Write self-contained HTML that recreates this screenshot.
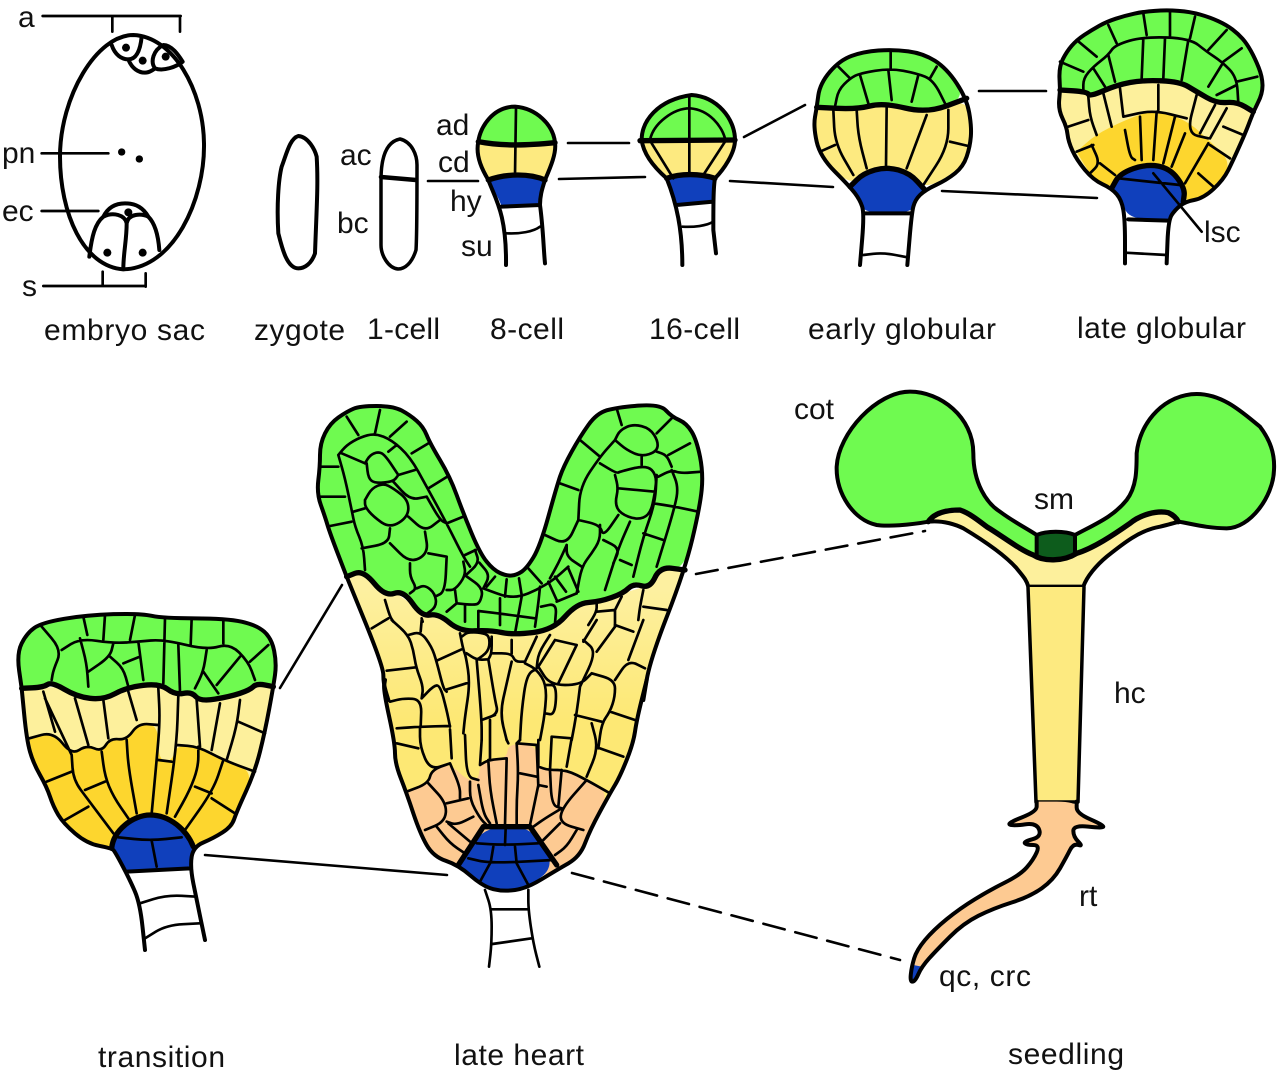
<!DOCTYPE html>
<html><head><meta charset="utf-8"><style>
html,body{margin:0;padding:0;background:#fff}
svg{display:block}
text{font-family:"Liberation Sans",sans-serif;font-size:30px;fill:#111}
path{stroke:#000;stroke-linejoin:round;stroke-linecap:round;fill:none}
path.f{stroke:none}
.t{stroke-width:8}.o{stroke-width:12}.b{stroke-width:16}
path.gr{fill:#6ffa50}path.pa{fill:#fdf09c}path.ye{fill:#fdea80}path.dk{fill:#fdd62e}path.pe{fill:#fdca92}path.bl{fill:#1040bc}
.c{stroke-width:2.6}
</style></head><body>
<svg width="1280" height="1072" viewBox="0 0 1280 1072" xmlns="http://www.w3.org/2000/svg">
<defs><linearGradient id="hy" gradientUnits="userSpaceOnUse" x1="0" y1="590" x2="0" y2="720"><stop offset="0" stop-color="#fdf0a0"/><stop offset="1" stop-color="#fde874"/></linearGradient></defs>

<!-- embryo sac + zygote -->
<g transform="scale(.33333)">
<path class="o" d="M400 105C520 110 610 270 612 430C615 600 520 805 370 808C250 800 180 640 180 470C180 290 290 105 400 105Z"/>
<path class="o" d="M335 135C345 165 365 178 385 178C405 178 420 160 425 110M385 178C395 205 415 218 435 218C450 218 465 205 465 205M465 205C450 185 460 150 490 135C515 135 535 165 548 185C530 200 490 215 465 205"/>
<path class="o" d="M268 770C275 710 285 670 310 650C340 635 375 645 380 670C385 640 425 640 445 650C465 670 475 710 478 750M380 670C380 720 370 760 370 805M310 650C325 620 350 610 375 610C410 610 430 625 445 650"/>
<g fill="#000"><circle cx="378" cy="143" r="12"/><circle cx="428" cy="182" r="12"/><circle cx="497" cy="170" r="12"/><circle cx="385" cy="637" r="12"/><circle cx="322" cy="758" r="12"/><circle cx="428" cy="758" r="12"/><circle cx="365" cy="456" r="11"/><circle cx="418" cy="477" r="11"/></g>
<path class="t" d="M128 48H542M337 48V95M540 48V95M125 460H325M125 633H295M130 858H437M308 815V858M437 820V860"/>
<path class="o" d="M835 700C830 620 835 540 845 500C860 460 870 415 895 408C925 410 945 450 950 470C955 550 950 620 945 760C935 790 915 805 895 805C860 805 845 740 835 700Z"/>
</g>

<!-- 1-cell -->
<path stroke-width="3.5" d="M381 180C381 160 385 142 400 139C412 142 417 155 417 165C417 200 417 235 416 250C412 263 405 269 398 269C388 268 381 255 381 245Z"/>
<path stroke-width="4.5" d="M381 177L416 180"/>
<path class="c" d="M428 181H478"/>

<!-- 8 and 16 cell -->
<g transform="translate(420 90) scale(.33333)">
<path class="f gr" d="M175 155C180 110 220 50 285 50C350 55 395 105 405 158L290 165Z"/>
<path class="f ye" d="M175 155C165 200 190 245 205 270C260 250 330 250 375 270C390 235 410 190 405 158L290 165Z"/>
<path class="f bl" d="M205 270C260 250 330 250 375 270C365 300 360 320 360 345L245 350C235 320 220 300 205 270Z"/>
<path class="o" d="M175 155C180 110 220 50 285 50C350 55 400 105 405 158C410 190 390 235 375 270C365 300 360 320 360 345C370 420 370 470 375 520M175 155C165 200 190 245 205 270C225 325 260 370 258 525M245 350L360 345"/>
<path class="b" d="M175 155C250 170 330 165 405 158M205 270C260 250 330 250 375 270"/>
<path class="t" d="M288 55L285 255M260 430C300 432 340 425 360 410"/>
<path class="f gr" d="M665 148C665 95 710 30 815 15C890 20 945 85 945 150Z"/>
<path class="f ye" d="M665 150C670 190 700 230 740 265C780 250 840 250 885 265C910 240 945 190 945 150Z"/>
<path class="f bl" d="M740 265C780 250 840 250 885 265C880 290 880 320 880 335L770 345C760 310 750 290 740 265Z"/>
<path class="o" d="M665 150C665 95 710 30 815 15C890 20 945 85 945 150C945 190 910 240 885 265C880 290 880 350 880 420L888 490M665 150C670 190 700 230 740 265C770 340 787 420 787 525M770 345L880 335"/>
<path class="b" d="M660 152L945 150M740 265C780 250 840 250 885 265"/>
<path class="t" d="M808 20V250M690 150C700 100 760 55 810 55C870 60 905 110 915 145M695 160L760 265M915 155L850 255M787 410C820 412 860 408 880 395"/>
</g>
<path class="c" d="M568 143H629M559 179L645 177M744 137L805 105M730 181L833 187M942 191L1097 198M979 91H1046"/>

<!-- early + late globular -->
<g transform="translate(800 10) scale(.33333)">
<path class="f gr" d="M50 292L60 220L120 150L190 125L280 118L370 130L440 175L500 265L380 310L250 278L170 298Z"/>
<path class="f ye" d="M50 292L40 350L60 440L150 525L190 490L260 470L330 490L375 540L490 470L510 410L515 350L500 265L380 310L250 278L170 298Z"/>
<path class="f bl" d="M150 530L190 490L260 470L330 490L375 540L345 570L335 610L193 610L180 570Z"/>
<path class="o" d="M50 292L60 220L120 150L190 125L280 118L370 130L440 175L500 265L515 350L510 410L490 470L440 510L375 540L345 570L335 610L322 765M50 292L40 350L60 440L150 530L180 570L193 610L180 765M193 610L335 610"/>
<path class="b" d="M50 292L170 298L250 278L380 310L500 265M150 530L190 490L260 470L330 490L375 540"/>
<path class="t" d="M115 170L150 205M410 170L390 205M272 125V175M105 290L115 240L150 205L180 190L270 175L350 190L400 210L440 290M180 195L205 280M265 180L275 270M355 195L335 275M100 300L105 400L160 495M170 300L175 380L200 475M260 290L258 470M380 315L320 475M445 300L445 410L370 525M60 425L105 405M450 395L505 408M190 735L250 728L322 742"/>

<path class="f gr" d="M780 240L777 170L800 125L830 90L875 60L920 35L975 17L1030 5L1100 0L1170 5L1230 22L1280 45L1315 72L1340 100L1365 145L1387 200L1388 250L1360 305L1310 275L1250 280L1190 245L1140 215L1030 210L950 225L870 260L860 245Z"/>
<path class="f pa" d="M780 240L775 300L800 350L805 395L830 450L935 535L1155 575L1210 565L1270 510L1300 450L1340 360L1360 305L1310 275L1250 280L1190 245L1140 215L1030 210L950 225L870 260L860 245Z"/>
<path class="f dk" d="M830 425L885 375L975 330L1060 300L1160 330L1225 390L1290 450L1270 510L1210 565L1155 575L1155 535L1110 475L1040 462L960 490L935 535L880 510Z"/>
<path class="f bl" d="M935 535L960 490L1040 462L1110 475L1155 535L1150 575L1110 625L1100 632L985 625L965 570L945 545Z"/>
<path class="o" d="M780 240L777 170L800 125L830 90L875 60L920 35L975 17L1030 5L1100 0L1170 5L1230 22L1280 45L1315 72L1340 100L1365 145L1387 200L1388 250L1360 305L1340 360L1300 450L1270 510L1210 565L1155 575L1125 600L1105 630L1100 760M780 240L775 300L800 350L805 395L830 450L880 510L935 535L965 570L975 630V760M985 628L1105 632"/>
<path class="b" d="M780 240L860 245L870 260L950 225L1030 210L1140 215L1190 245L1250 280L1310 275L1360 305M935 535L960 490L1040 462L1110 475L1155 535L1150 575"/>
<path class="t" d="M780 155L850 185M830 90L890 140M925 45L950 100M1030 10L1040 75M1110 5V80M1185 20L1170 85M1280 60L1225 120M1325 115L1270 155M1372 200L1310 215M850 245L850 205L880 170L925 135L945 105L1030 80L1170 85L1220 125L1265 155L1310 200L1315 280M925 135L945 215M1030 85L1025 205M1095 85L1090 205M1165 90L1145 210M1265 165L1225 230M880 175L915 230M1250 255L1310 225M865 260L870 320L890 375M805 350L865 330M830 425L880 405M910 250L935 350M960 235L970 320M1075 225V300M970 320L1060 300L1160 325M1190 255L1160 370L1225 385M1245 285L1200 370M1280 295L1230 385M1270 350L1330 375M1230 405L1290 445M875 405L900 460L870 490M900 460L945 495M975 360L990 440L1005 450M1020 320L1025 450M1070 305L1060 450M1125 320L1090 460M1155 370L1115 470M1225 400L1155 520M1195 490L1240 530M955 505L1140 525M1060 490L1205 665M975 728L1100 735"/>
</g>

<!-- transition -->
<g transform="translate(0 600) scale(.33333)">
<path class="f pa n" d="M65 262L80 420L100 490L140 560L160 620L190 670L260 730L335 745L580 740L640 710L700 680L710 635L765 515L795 395L820 260Z"/>
<path class="f dk" d="M88 415L160 395L215 465L260 435L305 455L330 415L380 420L415 370L475 375L475 480L515 485L530 435L595 440L670 480L765 515L710 635L700 680L640 710L580 740L335 745L260 730L190 670L160 620L140 560L100 490Z"/>
<path class="f gr" d="M65 265L50 160L80 100L125 68L260 45L420 40L490 55L680 55L770 75L815 115L830 190L820 260L770 250L750 270L690 290L600 305L575 275L525 285L480 250L380 262L310 300L230 290L155 245L130 262Z"/>
<path class="f bl" d="M335 745C340 690 400 645 450 645C510 645 560 690 580 740L570 800L380 815L345 755Z"/>
<path class="o" d="M65 265L50 160L80 100L125 68L260 45L420 40L490 55L680 55L770 75L815 115L830 190L820 260L795 395L765 515L710 635L695 680L640 715L580 740L570 800L590 900L615 1020M65 265L80 420L100 490L140 560L160 620L190 670L260 730L335 745L345 755L390 840L420 910L435 1050M380 815L570 805"/>
<path class="b" d="M65 265L130 262L155 245L230 290L310 300L380 262L480 250L525 285L575 275L600 305L690 290L750 270L770 250L820 260"/>
<path class="b" d="M335 745C340 690 400 645 450 645C510 645 560 690 580 740"/>
<path class="t" d="M125 80L185 150L160 210L155 240M185 150L240 115L340 130L415 125L490 118L620 150L690 130L745 185L765 240M250 50L262 105M315 45L310 120M405 45L390 120M495 55L490 250M575 55L572 135M670 60V130M805 135L750 185M240 115L260 190L265 260M340 130L330 170L265 215M330 170L370 205L385 260M370 190L420 170M415 125L430 240M535 135L540 275M620 150L610 215L585 265M610 215L655 280M720 170L650 255M130 275L165 395M135 295L215 465M225 295L265 435M310 300L325 415M385 275L410 360M475 265L480 360L470 480L455 640M535 285L530 435L500 640M590 300L600 440M660 310L635 450M720 300L710 380L680 480M715 365L795 400M88 415L160 395L215 465L260 435L305 455L330 415L380 420L415 370L475 375M475 480L515 485M530 435L595 440L670 480L765 515M140 545L215 515M215 465L220 540L265 600L340 700M195 660L265 620M255 570L315 545M305 455L315 530L340 590L385 655M380 420L385 500L410 640M595 440L595 500L570 570L525 650M585 560L635 580M670 480L640 570L555 690M635 595L705 640M355 712L450 722L545 712M455 722L470 800M420 910L500 885L590 890M435 1015L500 975L600 970"/>
</g>

<!-- heart body fill (yellow) -->
<path class="f n" style="fill:url(#hy)" d="M347 577L363 570L420 610L500 630L600 600L650 585L660 566L685 570L650 660L643 700L637 720L633 743L620 777L606 800L409 800L395 763L395 743L383 690L383 667Z"/>

<!-- heart lower -->
<g transform="translate(370 680) scale(.33333)">
<path class="f pe" d="M110 335L175 310L185 270L240 250L290 300L325 300L330 255L355 240L410 235L415 190L500 195L505 260L535 270L590 270L650 300L720 340L660 450L630 530L560 570L400 635L265 555L190 530L150 460Z"/>
<path class="f bl" d="M265 555L340 440L480 435L560 555L470 625L400 635L340 620Z"/>
<path class="o" d="M830 0L800 120L790 190L750 290L720 340L660 450L630 530L560 570L470 625L400 635L340 620L265 555L190 530L150 460L110 340L75 250L75 190L40 30L45 0"/>
<path class="b n" d="M265 555L340 440H480L560 555"/>
<path class="t" d="M110 335L175 310L185 270L240 250M150 140L150 200L180 270L240 250M80 190L145 205M240 148L245 235M285 165L290 290L325 300M335 180L330 255M360 120L360 235M410 180L415 190M505 180L505 260M450 180L440 190M605 175L590 260M545 170L605 175M545 170L540 270M665 130L685 205L650 290M690 205L760 230M330 255L355 240L410 235M500 195L440 190M505 260L535 270L590 270L650 300L720 340M175 310L230 370L225 425L165 450M230 370L295 355M240 250L270 320L270 355M230 425L260 435L310 410M300 305L300 360L330 415L350 435M325 315L340 400L360 430M355 240L360 330L380 430M410 235L405 435M440 190L445 280L440 360L440 435M450 280L500 290M505 315L530 320M505 315L480 435M500 195L505 320M540 270L545 375L575 385M575 270L565 380M650 300L575 385L570 430L640 450M575 385L525 415L490 440M570 430L520 480M620 450L590 500L555 525M200 440L240 490L285 520M235 430L300 485M407 445L405 495M320 490L400 495L505 490M295 535L360 550L550 540M370 500L362 548M435 500L440 550M360 550L330 605M440 550L475 615M345 630L365 690L365 790L357 860M475 630L475 690L490 790L508 860M362 688H475M367 792L485 775"/>
</g>

<!-- heart middle cells -->
<g transform="translate(380 620) scale(.33333)">
<path class="t" d="M35 0L85 45L100 90L108 142L130 200L125 235M20 152L108 142M85 45L122 35L155 80L170 125L190 205L200 215M125 0L122 35M170 122L245 88M240 40L250 90L258 110L270 190L255 290L250 340M125 235L160 198L180 195L200 270L210 320M30 245L70 235L125 238L122 320M50 325L122 320L210 318M195 210L265 188M260 100L290 120L325 118M290 120L305 300V360M325 118L345 240L355 282L305 300M335 100H395L405 125H435M335 50V100L325 118M395 60V100M395 125L380 190L360 280L380 360M435 130L470 148L500 195L495 280L480 360M470 145L440 165L425 270L420 360M470 50L435 125M510 45L475 100L470 145M525 60L475 140M475 140L510 195H600L635 160M500 195H530L525 285L495 280M600 200L590 280L575 360M525 60L590 75M590 75L535 190M610 60L650 95L600 200M650 0L610 65M705 20L650 95M705 15L760 35M635 160L705 180V230L690 275L665 310L655 385M705 180L745 120L795 145M745 120L790 0M585 285L665 305M690 275L765 300M245 50L265 35L320 40L330 60L325 95L290 120M345 285L305 300"/>
</g>

<!-- heart upper -->
<g transform="translate(310 400) scale(.33333)">
<path class="f gr" d="M110 530L60 400L45 350L20 280L30 200L30 130L60 70L110 35L150 18L250 18L300 45L340 80L360 130L420 230L460 340L510 460L550 510L590 528L620 525L650 505L690 440L740 260L760 200L810 110L860 40L920 22L1050 12L1085 50L1130 70L1160 120L1180 220L1170 320L1125 510L1050 500L1020 565L970 550L940 580L870 605L800 610L730 690L610 705L540 690L450 695L385 640L335 650L280 570L225 590L160 510Z"/>
<path class="o" d="M110 530L60 400L45 350L20 280L30 200L30 130L60 70L110 35L150 18L250 18L300 45L340 80L360 130L420 230L460 340L510 460L550 510L590 528L620 525L650 505L690 440L740 260L760 200L810 110L860 40L920 22L1050 12L1085 50L1130 70L1160 120L1180 220L1170 320L1125 510L1020 780L1000 900M110 530L220 800L220 850L235 900"/>
<path class="b" d="M110 530L160 510L225 590L280 570L335 650L385 640L450 695L540 690L610 705L730 690L800 610L870 605L940 580L970 550L1020 565L1050 500L1125 510"/>
<path class="t" d="M110 50L145 105M210 30L195 100M240 110L290 65M30 200H85M85 165L105 235L125 330L135 380L160 440L165 510M30 290H105M60 378L125 365M85 165L110 135L150 112L195 100L245 120L300 170L350 260L410 370L460 470L480 500M305 160L355 130M355 265L415 228M410 370L460 350M465 465L497 450M95 160L165 190M165 190L180 165L205 155L225 165L265 225M170 190L175 235L195 250L250 245L265 225M235 155L260 135M265 225L315 210M250 245L300 300L350 290M165 300L185 265L220 250L250 265L295 300L295 350L240 385L190 350L165 320ZM130 335L165 325M240 385L235 430L155 445M295 350L345 395L390 360M350 290L390 360L410 370M345 395L355 460L300 490L240 430M355 460L410 470M410 470L405 575L375 590M300 490L300 530L320 565L300 580M320 565L345 555L375 580L380 620L345 645M920 25L935 75M1085 55L1040 100M915 120L930 90L970 72L1020 85L1045 125L1040 155L995 170L950 150L915 120M810 120L870 170M915 120L870 170L810 260L805 360M750 250L805 270M870 190L920 220L930 215L1010 195L1040 225L1035 280L1020 345L980 360L930 340L915 310L925 265L915 225M925 265L1035 275M995 170V195M1040 155L1070 165L1085 200M1075 165L1140 130M1045 230L1085 210L1110 220L1175 215M1085 210L1105 260L1095 320L1040 500M1030 310L1095 320L1165 335M1000 400L1060 420M1040 225L1035 310L1000 410L970 530M805 360L870 375L880 410L925 345M880 420L930 445L910 490M705 405L770 435L805 360M770 435L770 470L815 500M870 375L870 420L845 460L815 500L800 580M960 365L925 445L885 570M930 480L965 495M770 435L745 490L720 535M225 600L240 650L250 665M185 685L235 655M335 655L338 665M860 610V635L835 675M860 635L915 630M915 630V680M935 590L915 630M1000 620L1070 630M1000 570L990 620L985 660"/>
</g>

<!-- heart green base cells -->
<g transform="translate(440 540) scale(.33333)">
<path class="t" d="M70 65L78 105L45 150L20 150M78 105L118 68L105 30M118 68L150 105L130 145M78 108L130 145L120 190L100 195L50 190M45 150L50 190M130 145L170 160L200 170L240 170L290 150L340 120L385 80M165 110L140 140M200 118L195 170M237 115L245 165M265 85L305 130M325 125L350 180M345 110L378 155M385 85L415 155M115 213L175 220L285 235M180 175V255M245 170L225 280M300 140L295 190L285 260M303 200L350 190L345 250M350 185L410 160M75 195V245M115 213V262M50 190L20 215"/>
</g>

<!-- connectors lower -->
<path class="c" d="M280 688L342 585M205 855L447 875"/>
<path class="c" stroke-dasharray="22 11" d="M572 873L900 960M696 574L925 531"/>

<!-- seedling -->
<g transform="translate(820 380) scale(.33333)">
<path class="f gr" d="M325 425C270 435 200 440 170 435C100 420 48 340 50 260C55 160 170 35 270 35C360 35 460 110 460 220C460 310 500 370 540 395C580 425 620 445 650 465L650 525L640 525C600 510 550 470 500 440C480 425 450 400 420 390C390 390 345 395 325 425Z"/>
<path class="f gr" d="M765 465C830 430 880 410 920 360C950 320 950 270 950 220C960 120 1040 42 1130 42C1210 42 1270 100 1320 140C1350 180 1365 220 1362 270C1360 350 1290 445 1220 445C1160 445 1110 430 1075 425C1070 415 1060 405 1045 398C1010 390 960 405 930 430C880 465 820 505 770 520Z"/>
<path class="f pa" d="M325 425C345 395 390 390 420 390C450 400 480 425 500 440C550 470 600 510 640 525C670 545 730 545 770 520C820 505 880 465 930 430C960 405 1010 390 1045 398C1060 405 1070 415 1075 425C1060 430 1040 435 1020 440C960 450 910 490 860 530C830 555 800 590 790 620H625C620 600 610 590 590 565C550 520 480 475 430 445C410 435 370 420 325 425Z"/>
<path class="f n" style="fill:#0d5c1c" d="M650 465C680 452 735 452 765 465V520C730 545 680 540 650 525Z"/>
<path class="o" d="M325 425C270 435 200 440 170 435C100 420 48 340 50 260C55 160 170 35 270 35C360 35 460 110 460 220C460 310 500 370 540 395C580 425 620 445 650 465M765 465C830 430 880 410 920 360C950 320 950 270 950 220C960 120 1040 42 1130 42C1210 42 1270 100 1320 140C1350 180 1365 220 1362 270C1360 350 1290 445 1220 445C1160 445 1110 430 1075 425M325 425C370 420 410 435 430 445C480 475 550 520 590 565C610 590 620 600 625 620H790C800 590 830 555 860 530C910 490 960 450 1020 440C1040 435 1060 430 1075 425M650 465C680 452 735 452 765 465V520M650 465V525"/>
<path class="b" d="M325 425C345 395 390 390 420 390C450 400 480 425 500 440C550 470 600 510 640 525C670 545 730 545 770 520C820 505 880 465 930 430C960 405 1010 390 1045 398C1060 405 1070 415 1075 425"/>
</g>
<path class="f ye n" d="M1028 587L1036 802H1078L1084 587Z"/>
<path class="n" stroke-width="3.5" d="M1028 587L1036 802H1078L1084 587"/>
<g transform="translate(890 780) scale(.33333)">
<path class="f pe" d="M440 65L440 95L350 130L370 138L440 128L455 170L400 185L410 195L450 195L430 240L390 285L300 330L210 385L130 450L80 510L65 560L60 605L75 605L95 560L140 510L220 430L310 385L420 350L490 300L530 230L550 190L580 200L550 170L550 135L640 145L640 135L560 100L560 65Z"/>
<path class="f bl n" d="M70 555L95 560L75 605L65 600Z"/>
<path class="o" d="M440 65L440 95L350 130L370 138L440 128L455 170L400 185L410 195L450 195L430 240L390 285L300 330L210 385L130 450L80 510L65 560L60 605L75 605L95 560L140 510L220 430L310 385L420 350L490 300L530 230L550 190L580 200L550 170L550 135L640 145L640 135L560 100L560 65"/>
</g>

<!-- labels -->
<text x="18" y="27">a</text>
<text x="2" y="163">pn</text>
<text x="2" y="221">ec</text>
<text x="22" y="296">s</text>
<text x="340" y="165">ac</text>
<text x="337" y="233">bc</text>
<text x="436" y="135">ad</text>
<text x="438" y="172">cd</text>
<text x="450" y="211">hy</text>
<text x="461" y="256">su</text>
<text x="1204" y="242">lsc</text>
<text x="44" y="340" textLength="161">embryo sac</text>
<text x="254" y="340" textLength="91">zygote</text>
<text x="367" y="339" textLength="73">1-cell</text>
<text x="490" y="339" textLength="74">8-cell</text>
<text x="649" y="339" textLength="91">16-cell</text>
<text x="808" y="339" textLength="188">early globular</text>
<text x="1077" y="338" textLength="169">late globular</text>
<text x="794" y="419">cot</text>
<text x="1034" y="509">sm</text>
<text x="1114" y="703">hc</text>
<text x="1079" y="906">rt</text>
<text x="939" y="986" textLength="92">qc, crc</text>
<text x="98" y="1067" textLength="127">transition</text>
<text x="454" y="1065" textLength="130">late heart</text>
<text x="1008" y="1064" textLength="116">seedling</text>
</svg>
<script>
(function(){
var ps=document.querySelectorAll('svg path:not(.n)');
for(var k=0;k<ps.length;k++){
 var p=ps[k],d=p.getAttribute('d');
 if(d.indexOf('C')>=0)continue;
 var tk=d.match(/[MLHVZ]|-?[\d.]+/g),subs=[],cur=null,x=0,y=0,cmd='L',i=0;
 while(i<tk.length){
  var t=tk[i];
  if(/[MLHVZ]/.test(t)){cmd=t;i++;if(t==='Z'&&cur)cur.push(cur[0].slice());continue;}
  if(cmd==='M'){x=+tk[i];y=+tk[i+1];i+=2;cur=[[x,y]];subs.push(cur);cmd='L';}
  else if(cmd==='L'){x=+tk[i];y=+tk[i+1];i+=2;cur.push([x,y]);}
  else if(cmd==='H'){x=+tk[i];i++;cur.push([x,y]);}
  else if(cmd==='V'){y=+tk[i];i++;cur.push([x,y]);}
  else i++;
 }
 var o='';
 subs.forEach(function(s){
  o+='M'+s[0][0]+' '+s[0][1];
  if(s.length<3){if(s[1])o+='L'+s[1][0]+' '+s[1][1];return;}
  o+='L'+(s[0][0]+s[1][0])/2+' '+(s[0][1]+s[1][1])/2;
  for(var j=1;j<s.length-1;j++){
   o+='Q'+s[j][0]+' '+s[j][1]+' '+(s[j][0]+s[j+1][0])/2+' '+(s[j][1]+s[j+1][1])/2;
  }
  var e=s[s.length-1];o+='L'+e[0]+' '+e[1];
 });
 p.setAttribute('d',o);
}
})();
</script>
</body></html>
